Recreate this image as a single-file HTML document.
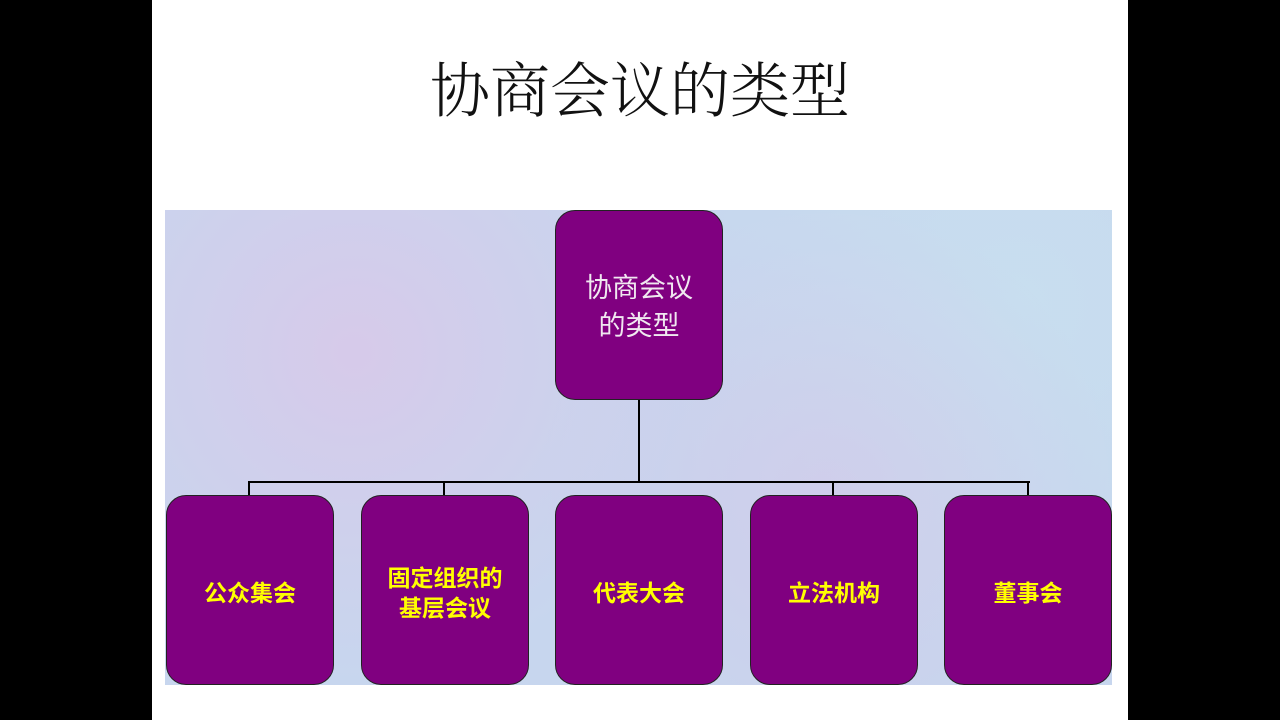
<!DOCTYPE html>
<html><head><meta charset="utf-8"><style>
body{margin:0;width:1280px;height:720px;background:#000;position:relative;overflow:hidden;font-family:"Liberation Sans","Noto Sans CJK SC",sans-serif}
.slide{position:absolute;left:152px;top:0;width:976px;height:720px;background:#fff}
.title{position:absolute;left:152px;width:976px;top:44px;text-align:center;font-size:60px;color:#111;font-family:"Liberation Serif","Noto Serif CJK SC",serif;font-weight:300;letter-spacing:0px}
.panel{position:absolute;left:165px;top:210px;width:947px;height:475px;background:
radial-gradient(circle at 20% 30%,rgba(230,190,230,.5),transparent 40%),
radial-gradient(circle at 70% 60%,rgba(220,190,230,.4),transparent 40%),
radial-gradient(circle at 90% 20%,rgba(200,230,240,.5),transparent 40%),
#c7d6ee}
.box{position:absolute;width:168px;height:190px;background:#800080;border:1px solid #222;border-radius:20px;display:flex;align-items:center;justify-content:center;text-align:center;box-sizing:border-box;font-size:23px;font-weight:bold;color:#ffff00;line-height:30px;padding-top:6px}
.top{color:#f0e8f0;font-weight:normal;font-size:27px;line-height:38px;padding-top:4px}
.l{position:absolute;background:#000}
</style></head><body>
<div class="slide"></div>
<div class="title">协商会议的类型</div>
<div class="panel"></div>
<div class="l" style="left:638px;top:400px;width:2px;height:83px"></div>
<div class="l" style="left:248px;top:481px;width:782px;height:2px"></div>
<div class="l" style="left:248px;top:481px;width:2px;height:15px"></div>
<div class="l" style="left:443px;top:481px;width:2px;height:15px"></div>
<div class="l" style="left:832px;top:481px;width:2px;height:15px"></div>
<div class="l" style="left:1027px;top:481px;width:2px;height:15px"></div>
<div class="box top" style="left:555px;top:210px">协商会议<br>的类型</div>
<div class="box" style="left:166px;top:495px">公众集会</div>
<div class="box" style="left:361px;top:495px">固定组织的<br>基层会议</div>
<div class="box" style="left:555px;top:495px">代表大会</div>
<div class="box" style="left:750px;top:495px">立法机构</div>
<div class="box" style="left:944px;top:495px">董事会</div>
</body></html>
